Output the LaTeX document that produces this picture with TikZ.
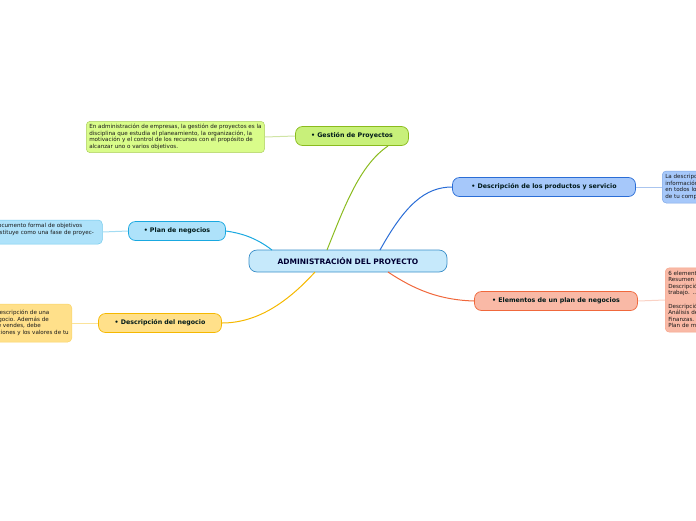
\documentclass[tikz,border=0pt]{standalone}
\usepackage{fontspec}
\setmainfont{DejaVu Sans}
\begin{document}
\begin{tikzpicture}[x=1pt,y=-1pt,
  br/.style={draw,rounded corners=7pt,line width=0.7pt,minimum height=19pt,inner sep=0pt,font=\bfseries\fontsize{6.3}{7}\selectfont,text=black!80!teal},
  note/.style={draw,rounded corners=4pt,line width=0.5pt,inner sep=3pt,align=left,font=\fontsize{5.6}{6.6}\selectfont,text=black!90},
  con/.style={line width=1pt},
  lk/.style={line width=1pt}]
\useasboundingbox (0,0) rectangle (696,520);
\clip (0,0) rectangle (696,520);
\definecolor{cB}{HTML}{C6E9FB}\definecolor{cBd}{HTML}{3A8FC9}
\definecolor{gF}{HTML}{C8F07A}\definecolor{gD}{HTML}{8ABB1E}\definecolor{gN}{HTML}{D9FC8A}
\definecolor{pF}{HTML}{AEE2FA}\definecolor{pD}{HTML}{19A8E0}
\definecolor{yF}{HTML}{FFE08A}\definecolor{yD}{HTML}{F5B800}
\definecolor{bF}{HTML}{A6C8FA}\definecolor{bD}{HTML}{2A6DD6}
\definecolor{rF}{HTML}{F9B9A6}\definecolor{rD}{HTML}{F0683C}
% central
\node[draw=cBd,fill=cB,rounded corners=8pt,line width=0.7pt,minimum width=198pt,minimum height=22pt,font=\bfseries\fontsize{7.5}{8}\selectfont,text=black!80!blue] (c) at (348,261) {ADMINISTRACIÓN DEL PROYECTO};
% branches
\node[br,draw=gD,fill=gF,minimum width=113pt] (g) at (352,136) {• Gestión de Proyectos};
\node[br,draw=pD,fill=pF,minimum width=97pt] (p) at (177,231) {• Plan de negocios};
\node[br,draw=yD,fill=yF,minimum width=123pt] (d) at (160,323) {• Descripción del negocio};
\node[br,draw=bD,fill=bF,minimum width=183pt] (s) at (544,187) {• Descripción de los productos y servicio};
\node[br,draw=rD,fill=rF,minimum width=163pt] (e) at (556,301) {• Elementos de un plan de negocios};
% notes
\node[note,draw=gD!70,fill=gN,anchor=west,minimum height=31pt] (gn) at (86,137) {En administración de empresas, la gestión de proyectos es la\\disciplina que estudia el planeamiento, la organización, la\\motivación y el control de los recursos con el propósito de\\alcanzar uno o varios objetivos.};
\node[note,draw=pD!60,fill=pF,text width=122pt,anchor=west,minimum height=24pt] (pn) at (-26,232) {Es un documento formal de objetivos\\que constituye como una fase de proyección};
\node[note,draw=yD!60,fill=yF,anchor=east,minimum height=38pt] (dn) at (72,323) {¿Qué es? La descripción de una\\empresa o negocio. Además de\\explicar lo que vendes, debe\\incluir las funciones y los valores de tu};
\node[note,draw=bD!60,fill=bF,text width=120pt,anchor=west,minimum height=32pt] (sn) at (662,187) {La descripción de los productos\\información sobre ellos\\en todos los aspectos\\de tu compañía};
\node[note,draw=rD!60,fill=rF,text width=120pt,anchor=west,minimum height=64pt] (en) at (665,300) {6 elementos clave\\Resumen ejecutivo\\Descripción del plan de\\trabajo. ...\\[6.6pt]Descripción del negocio\\Análisis de mercado\\Finanzas.\\Plan de marketing};
% connectors
\draw[con,gD] (327,250) .. controls (345,205) and (360,165) .. (388,146);
\draw[con,pD] (272,250) .. controls (255,237) and (240,233) .. (p.east);
\draw[con,yD] (315,272) .. controls (285,305) and (255,323) .. (d.east);
\draw[con,bD] (380,250) .. controls (405,205) and (425,187) .. (s.west);
\draw[con,rD] (388,272) .. controls (415,290) and (440,300) .. (e.west);
\draw[lk,gD!40] (gn.east) -- (g.west);
\draw[lk,pD!40] (pn.east) -- (p.west);
\draw[lk,yD!40] (dn.east) -- (d.west);
\draw[lk,bD!40] (s.east) -- (sn.west);
\draw[lk,rD!30] (e.east) -- (en.west);
\end{tikzpicture}
\end{document}
